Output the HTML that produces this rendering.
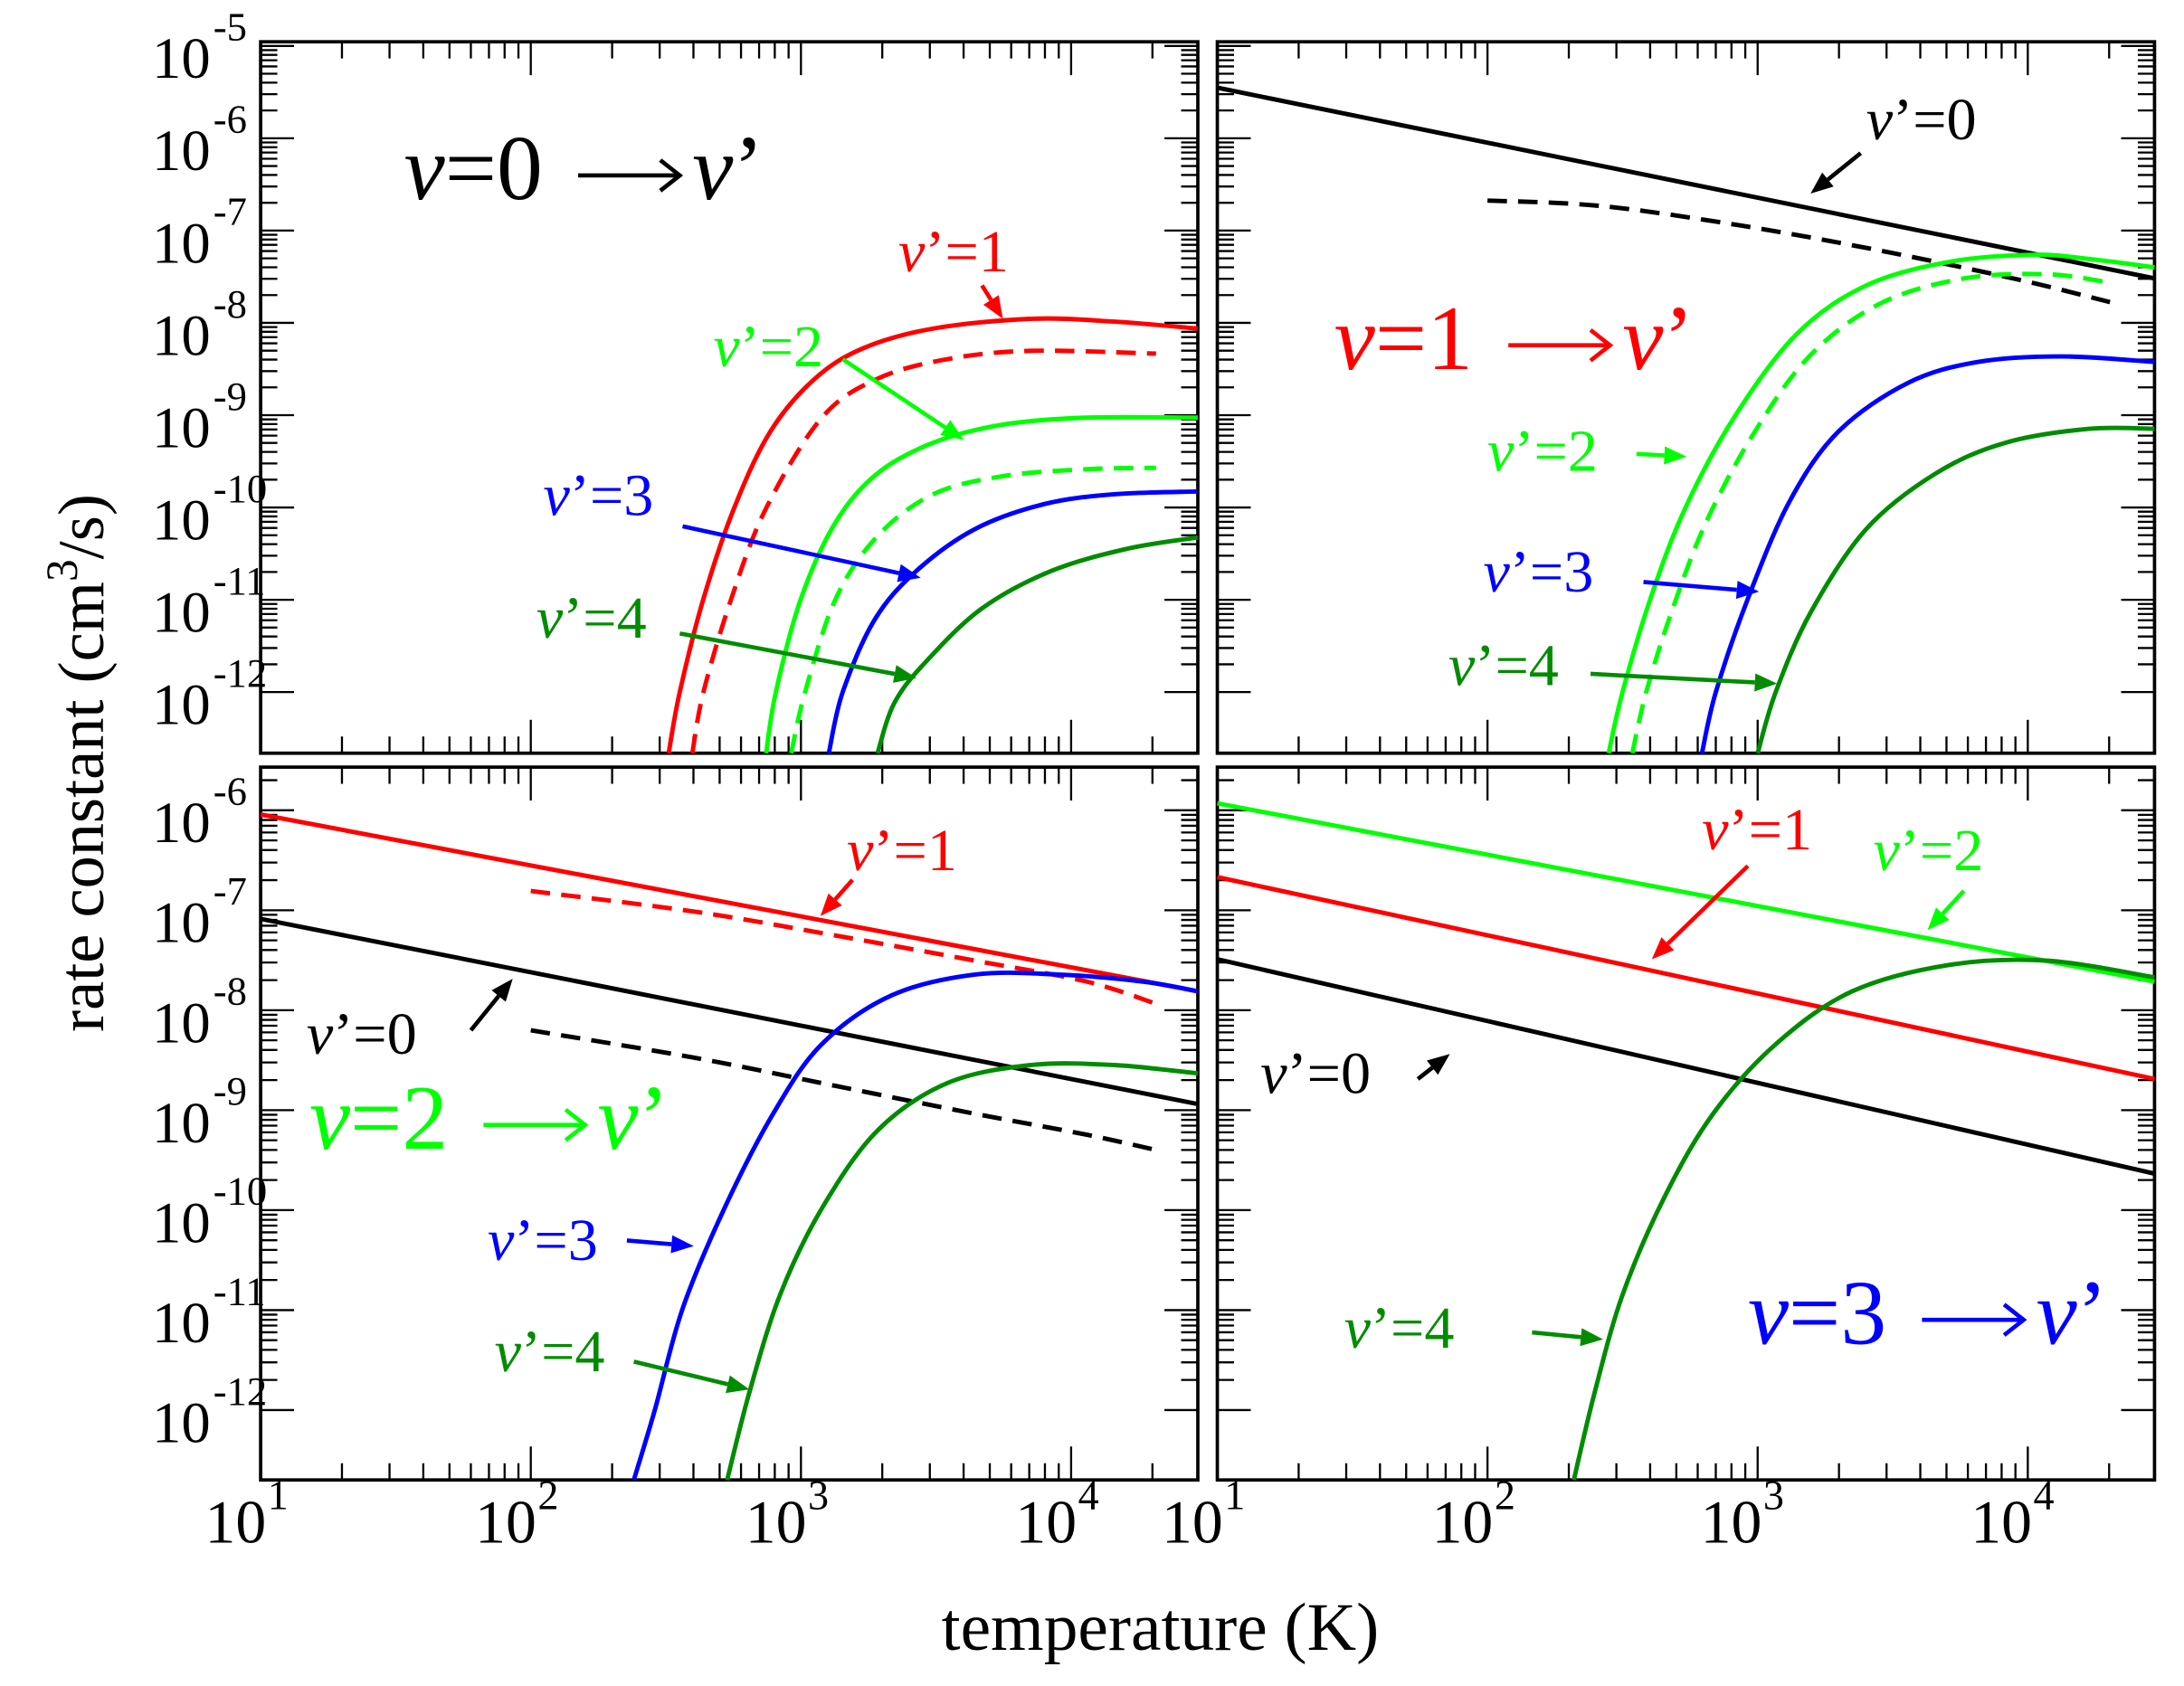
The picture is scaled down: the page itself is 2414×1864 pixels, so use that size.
<!DOCTYPE html>
<html><head><meta charset="utf-8"><style>
html,body{margin:0;padding:0;background:#fff;}
svg{display:block;}
text{font-family:"Liberation Serif",serif;}
</style></head><body>
<svg id="s" width="2414" height="1864" viewBox="0 0 1568 1211" xmlns="http://www.w3.org/2000/svg">
<rect width="1568" height="1211" fill="#fff"/>
<g id="g"></g>
</svg>
<script>
const G=document.getElementById('g');
let html='';
const RED='#ff0000',LIME='#00ff00',BLUE='#0000ff',DG='#008c00';
function line(x1,y1,x2,y2,w,c){html+=`<line x1="${x1}" y1="${y1}" x2="${x2}" y2="${y2}" stroke="${c||'#000'}" stroke-width="${w}"/>`;}
function smooth(pts,color,dash){
  let d=`M${pts[0][0]},${pts[0][1]}`;
  for(let i=0;i<pts.length-1;i++){
    const p0=pts[Math.max(0,i-1)],p1=pts[i],p2=pts[i+1],p3=pts[Math.min(pts.length-1,i+2)];
    const c1=[p1[0]+(p2[0]-p0[0])/6,p1[1]+(p2[1]-p0[1])/6];
    const c2=[p2[0]-(p3[0]-p1[0])/6,p2[1]-(p3[1]-p1[1])/6];
    d+=` C${c1[0]},${c1[1]} ${c2[0]},${c2[1]} ${p2[0]},${p2[1]}`;
  }
  html+=`<path d="${d}" fill="none" stroke="${color}" stroke-width="3.2" ${dash?'stroke-dasharray="14,8"':''}/>`;
}
function arrow(x1,y1,x2,y2,c){
  const a=Math.atan2(y2-y1,x2-x1),L=16,W=6.5;
  const bx=x2-L*Math.cos(a),by=y2-L*Math.sin(a);
  line(x1,y1,bx,by,3,c);
  const px=-Math.sin(a)*W,py=Math.cos(a)*W;
  html+=`<polygon points="${x2},${y2} ${bx+px},${by+py} ${bx-px},${by-py}" fill="${c}"/>`;
}
function lab(x,y,num,c){
  html+=`<text x="${x}" y="${y}" font-size="43" fill="${c}"><tspan font-style="italic">v</tspan>’=${num}</text>`;
}
function big(x,y,num,c){
  html+=`<text x="${x}" y="${y}" font-size="66" fill="${c}"><tspan font-style="italic">v</tspan>=${num}</text>`;
  const ax=x+125,ay=y-17,bx=x+198;
  line(ax,ay,bx,ay,3,c);
  html+=`<polyline points="${bx-14},${ay-11} ${bx},${ay} ${bx-14},${ay+11}" fill="none" stroke="${c}" stroke-width="3"/>`;
  html+=`<text x="${x+207}" y="${y}" font-size="66" fill="${c}"><tspan font-style="italic">v</tspan>’</text>`;
}
function panel(x0,x1,y0,y1,yTop,yPerDec,eTop,eBot,ylabels){
  for(let d=1;d<=4;d++){
    for(let m=1;m<=9;m++){
      const x=x0+194*(d-1+Math.log10(m));
      if(x>x1-1) continue;
      const L=(m==1)?24:12;
      if(!(m==1&&d==1)){ line(x,y1,x,y1-L,1.5); line(x,y0,x,y0+L,1.5); }
    }
  }
  for(let e=eTop;e>=eBot;e--){
    for(let m=1;m<=9;m++){
      const y=yTop+yPerDec*(eTop-e)-yPerDec*Math.log10(m);
      if(y<y0+1||y>y1-1) continue;
      const L=(m==1)?24:12;
      line(x0,y,x0+L,y,1.5); line(x1,y,x1-L,y,1.5);
      if(m==1&&ylabels){
        html+=`<text x="151" y="${y+23}" font-size="42" text-anchor="end">10</text>`;
        html+=`<text x="153" y="${y-4}" font-size="29">-${-e}</text>`;
      }
    }
  }
  html+=`<rect x="${x0}" y="${y0}" width="${x1-x0}" height="${y1-y0}" fill="none" stroke="#000" stroke-width="2.4"/>`;
}
panel(187,860,30,541,33,66.3,-5,-12,true);
panel(874,1547,30,541,33,66.3,-5,-12,false);
panel(187,860,551,1063,582,71.8,-6,-12,true);
panel(874,1547,551,1063,582,71.8,-6,-12,false);
[[187,1],[381,2],[575,3],[769,4],[874,1],[1068,2],[1261,3],[1455,4]].forEach(([x,n])=>{
  html+=`<text x="${x+4}" y="1108" font-size="44" text-anchor="end">10</text>`;
  html+=`<text x="${x+5}" y="1084" font-size="30">${n}</text>`;
});
html+=`<text x="833" y="1185" font-size="49" text-anchor="middle">temperature (K)</text>`;
html+=`<text transform="translate(74,548) rotate(-90)" font-size="47" text-anchor="middle">rate constant (cm<tspan font-size="32" dy="-19">3</tspan><tspan dy="19">/s)</tspan></text>`;

// TL
smooth([[480,541],[488,497],[505,430],[527,365],[553,310],[585,272],[620,250],[670,236],[740,229],[800,231],[860,236]],RED);
smooth([[497,541],[505,497],[525,430],[550,365],[590,300],[630,272],[680,258],[740,252],[830,254]],RED,true);
smooth([[550,541],[557,497],[575,430],[600,375],[630,340],[670,318],[720,305],[780,300],[860,300]],LIME);
smooth([[568,541],[578,497],[600,430],[630,385],[670,355],[720,342],[780,337],[830,336]],LIME,true);
smooth([[595,541],[605,497],[628,445],[658,410],[700,380],[750,362],[800,355],[860,353]],BLUE);
smooth([[630,541],[642,505],[665,475],[705,437],[755,410],[810,394],[860,386]],DG);
big(290,143,0,'#000');
lab(645,195,1,RED); arrow(705,205,720,229,RED);
lab(512,263,2,LIME); arrow(605,258,692,316,LIME);
lab(390,370,3,BLUE); arrow(490,378,661,415,BLUE);
lab(385,458,4,DG); arrow(488,455,658,487,DG);
// TR
line(874,63,1547,200,3.2,'#000');
smooth([[1068,144],[1150,148],[1250,162],[1350,180],[1450,201],[1515,217]],'#000',true);
smooth([[1155,541],[1165,497],[1185,430],[1210,365],[1245,300],[1290,240],[1340,205],[1400,188],[1460,183],[1500,186],[1547,192]],LIME);
smooth([[1172,541],[1182,497],[1200,440],[1225,375],[1260,310],[1300,255],[1350,218],[1410,200],[1470,197],[1515,203]],LIME,true);
smooth([[1222,541],[1232,497],[1255,430],[1285,360],[1320,310],[1370,275],[1420,260],[1480,256],[1547,260]],BLUE);
smooth([[1262,541],[1275,497],[1300,440],[1340,380],[1390,340],[1440,318],[1500,308],[1547,308]],DG);
lab(1340,100,0,'#000'); arrow(1336,110,1300,139,'#000');
big(958,265,1,RED);
lab(1068,338,2,LIME); arrow(1175,326,1211,328,LIME);
lab(1065,425,3,BLUE); arrow(1180,418,1263,425,BLUE);
lab(1040,492,4,DG); arrow(1142,484,1276,491,DG);
// BL
line(187,585,860,712,3.2,RED);
smooth([[381,640],[500,655],[600,672],[700,690],[780,705],[830,721]],RED,true);
line(187,660,860,793,3.2,'#000');
smooth([[381,740],[500,760],[600,780],[700,800],[780,815],[830,826]],'#000',true);
smooth([[455,1063],[470,1013],[490,940],[520,868],[555,800],[590,750],[640,715],[700,700],[760,700],[820,705],[860,712]],BLUE);
smooth([[522,1063],[538,1000],[560,930],[590,868],[630,812],[680,778],[740,765],[800,765],[860,771]],DG);
lab(608,625,1,RED); arrow(612,632,589,658,RED);
lab(220,757,0,'#000'); arrow(338,740,368,703,'#000');
big(222,825,2,LIME);
lab(350,905,3,BLUE); arrow(450,891,498,895,BLUE);
lab(355,985,4,DG); arrow(455,978,538,998,DG);
// BR
line(874,577,1547,705,3.2,LIME);
line(874,630,1547,775,3.2,RED);
line(874,689,1547,843,3.2,'#000');
smooth([[1130,1063],[1145,1000],[1165,930],[1195,860],[1230,800],[1275,750],[1330,712],[1400,693],[1470,690],[1547,702]],DG);
lab(1222,610,1,RED); arrow(1255,622,1186,689,RED);
lab(1345,625,2,LIME); arrow(1410,640,1384,668,LIME);
lab(905,785,0,'#000'); arrow(1018,775,1041,757,'#000');
lab(965,968,4,DG); arrow(1100,957,1151,962,DG);
big(1255,965,3,BLUE);
G.innerHTML=html;
</script>
</body></html>
